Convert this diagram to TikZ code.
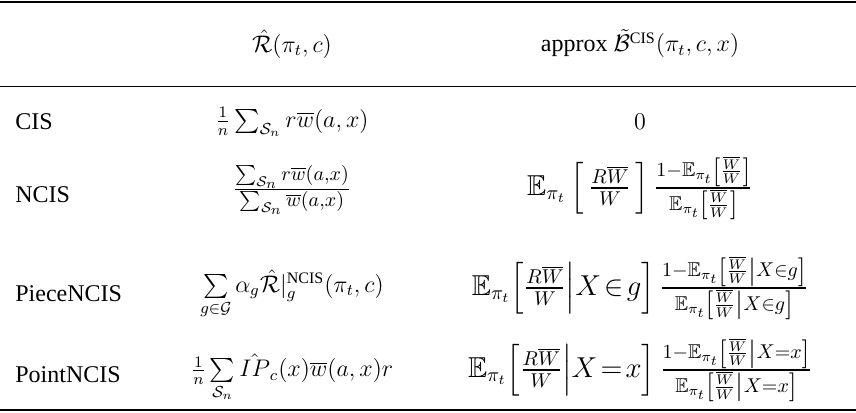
\documentclass[tikz,border=0pt]{standalone}
\usepackage{amsmath,amssymb}
\usepackage{fontspec}
\setmainfont{Liberation Serif}
\begin{document}
\begin{tikzpicture}[x=0.5pt,y=-0.5pt]
\tikzset{lab/.style={anchor=west,inner sep=0pt,font=\large},cell/.style={inner sep=0pt,font=\large},big/.style={inner sep=0pt,font=\Large}}
\useasboundingbox (0,0) rectangle (856,412);
\draw[line width=0.8pt] (0,2) -- (856,2);
\draw[line width=0.5pt] (0,86) -- (856,86);
\draw[line width=0.8pt] (0,410) -- (856,410);
\node[cell] (h1) at (292,44) {$\hat{\mathcal{R}}(\pi_t,c)$};
\node[cell] (h2) at (640,44) {approx $\tilde{\mathcal{B}}^{\mathrm{CIS}}(\pi_t,c,x)$};
\node[lab] (r1) at (15,122) {CIS};
\node[lab] (r2) at (15,195) {NCIS};
\node[lab] (r3) at (15,294) {PieceNCIS};
\node[lab] (r4) at (15,375) {PointNCIS};
\node[cell] (a1) at (292,122) {$\tfrac{1}{n}\sum_{\mathcal{S}_n} r\overline{w}(a,x)$};
\node[cell] (b1) at (640,122) {$0$};
\node[big] (a2) at (292,190) {$\frac{\sum_{\mathcal{S}_n} r\overline{w}(a,x)}{\sum_{\mathcal{S}_n}\overline{w}(a,x)}$};
\node[big] (b2) at (640,188) {$\mathbb{E}_{\pi_t}\left[\,\frac{R\overline{W}}{W}\,\right]\frac{1-\mathbb{E}_{\pi_t}\left[\frac{\overline W}{W}\right]}{\mathbb{E}_{\pi_t}\left[\frac{\overline W}{W}\right]}$};
\node[cell] (a3) at (292,294) {$\sum\limits_{g\in\mathcal{G}}\alpha_g\hat{\mathcal{R}}|_g^{\mathrm{NCIS}}(\pi_t,c)$};
\node[big] (b3) at (640,288) {$\mathbb{E}_{\pi_t}\!\left[\frac{R\overline{W}}{W}\middle|X\!\in\! g\right]\frac{1-\mathbb{E}_{\pi_t}\left[\frac{\overline W}{W}\middle|X\in g\right]}{\mathbb{E}_{\pi_t}\left[\frac{\overline W}{W}\middle|X\in g\right]}$};
\node[cell] (a4) at (292,378) {$\frac{1}{n}\sum\limits_{\mathcal{S}_n}\hat{IP}_c(x)\overline{w}(a,x)r$};
\node[big] (b4) at (640,370) {$\mathbb{E}_{\pi_t}\!\left[\frac{R\overline{W}}{W}\middle|X\!=\!x\right]\frac{1-\mathbb{E}_{\pi_t}\left[\frac{\overline W}{W}\middle|X=x\right]}{\mathbb{E}_{\pi_t}\left[\frac{\overline W}{W}\middle|X=x\right]}$};
\end{tikzpicture}
\end{document}
